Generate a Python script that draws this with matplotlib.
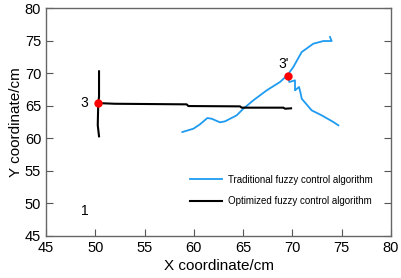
import numpy as np
import matplotlib
matplotlib.use("Agg")
import matplotlib.pyplot as plt

plt.rcParams['font.family'] = ['Liberation Sans', 'DejaVu Sans']

# Traditional fuzzy control trajectory (main path, then branch after NaN)
trad_x = [58.83, 59.95, 60.62, 61.37, 61.81, 62.65, 63.16, 64.34, 65.02, 66.03, 67.39, 68.74, 69.48,
          70.09, 70.94, 72.12, 73.14, 73.98, 73.81,
          np.nan,
          69.48, 69.69, 70.26, 70.26, 70.67, 70.84, 70.94, 71.95, 72.97, 74.15, 74.66]
trad_y = [60.96, 61.47, 62.14, 63.11, 63.00, 62.45, 62.60, 63.52, 64.54, 65.82, 67.36, 68.64, 69.66,
          70.94, 73.24, 74.52, 74.93, 74.93, 75.55,
          np.nan,
          69.66, 68.64, 68.90, 67.36, 67.87, 66.85, 66.08, 64.29, 63.52, 62.50, 61.99]

# Optimized fuzzy control trajectory
opt_x = [50.38, 50.38, 50.30, 50.25, 50.38,
         np.nan,
         50.30, 52.00, 59.27, 59.44, 64.68, 64.85, 69.08, 69.25, 69.86]
opt_y = [70.28, 66.40, 65.40, 62.00, 60.30,
         np.nan,
         65.40, 65.30, 65.21, 64.95, 64.90, 64.70, 64.70, 64.54, 64.60]

point_x = [50.3, 69.5]
point_y = [65.35, 69.6]
point_labels = ["3", "3'"]
start_label = "1"
start_xy = (48.9, 48.9)

fig = plt.figure(figsize=(4.01, 2.78), dpi=100)
ax = fig.add_axes([46/401, 1 - 236/278, (391-46)/401, (236-8)/278])

ax.plot(trad_x, trad_y, color='#1E9BF0', lw=1.3, label='Traditional fuzzy control algorithm')
ax.plot(opt_x, opt_y, color='black', lw=1.5, label='Optimized fuzzy control algorithm')
ax.plot(point_x, point_y, 'o', color='red', ms=5, zorder=5)

ax.text(49.3, 65.35, point_labels[0], ha='right', va='center', fontsize=10)
ax.text(69.1, 70.4, point_labels[1], ha='center', va='bottom', fontsize=10)
ax.text(start_xy[0], start_xy[1], start_label, ha='center', va='center', fontsize=10)

ax.set_xlim(45, 80)
ax.set_ylim(45, 80)
ax.set_xticks(np.arange(45, 81, 5))
ax.set_yticks(np.arange(45, 81, 5))
ax.tick_params(direction='in', right=True, top=False, labelsize=10.5, length=5, color='#555555')
for s in ax.spines.values():
    s.set_color('#666666')
    s.set_linewidth(1.0)
ax.set_xlabel('X coordinate/cm', fontsize=11, labelpad=3)
ax.set_ylabel('Y coordinate/cm', fontsize=11, labelpad=1)

leg = ax.legend(loc='center left', bbox_to_anchor=(0.417, 0.2), frameon=False, fontsize=7,
                handlelength=3.3, handletextpad=0.6, labelspacing=1.2,
                borderaxespad=0, borderpad=0)

fig.savefig('out.png', dpi=100)
